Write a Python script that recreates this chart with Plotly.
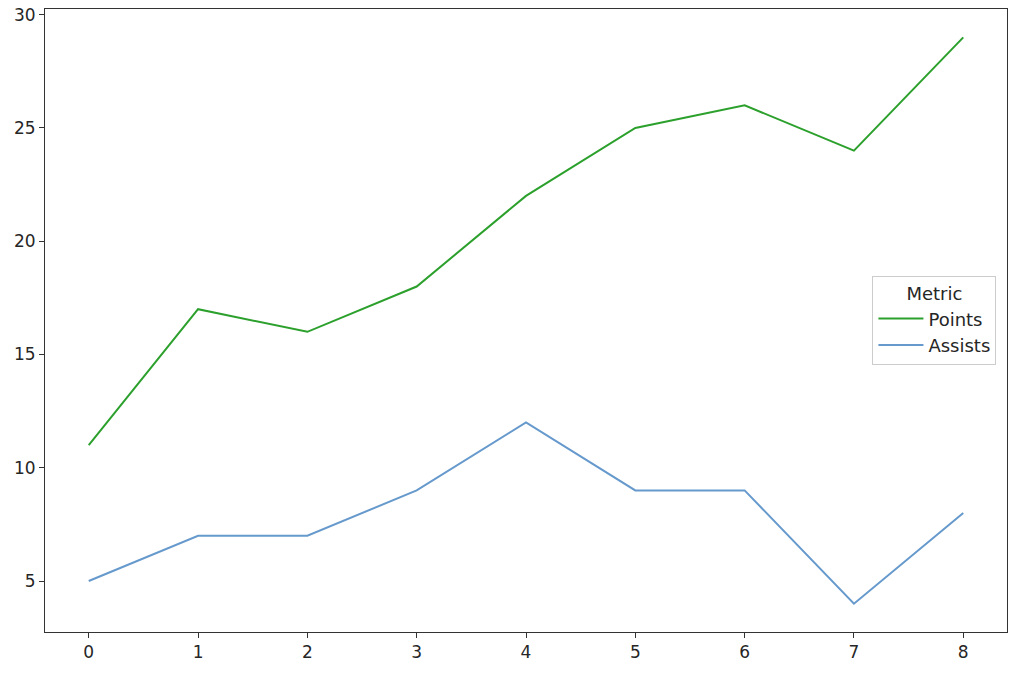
import plotly.graph_objects as go

x_vals = [0, 1, 2, 3, 4, 5, 6, 7, 8]
points = [11, 17, 16, 18, 22, 25, 26, 24, 29]
assists = [5, 7, 7, 9, 12, 9, 9, 4, 8]
y_ticks = [5, 10, 15, 20, 25, 30]

fig = go.Figure()
fig.add_trace(go.Scatter(x=x_vals, y=points, mode="lines", name="Points",
                         line=dict(color="#2ca02c", width=2)))
fig.add_trace(go.Scatter(x=x_vals, y=assists, mode="lines", name="Assists",
                         line=dict(color="#6699cc", width=2)))

axis_common = dict(showgrid=False, zeroline=False, showline=True, linecolor="#333333",
                   linewidth=1, mirror=True, ticks="outside", ticklen=5, tickwidth=1,
                   tickcolor="#333333", tickfont=dict(size=17, color="#262626"),
                   ticklabeloverflow="allow", automargin=False)
fig.update_xaxes(range=[-0.4, 8.4], tickvals=x_vals, **axis_common)
fig.update_yaxes(range=[2.75, 30.25], tickvals=y_ticks, **axis_common)

fig.update_layout(
    width=1024, height=673,
    margin=dict(l=45, r=17, t=9, b=41),
    paper_bgcolor="white", plot_bgcolor="white",
    font=dict(family="DejaVu Sans", size=17, color="#262626"),
    legend=dict(title=dict(text="Metric", side="top center", font=dict(size=18)),
                x=0.989, xanchor="right", y=0.5, yanchor="middle",
                bgcolor="rgba(255,255,255,0.8)", bordercolor="#cccccc", borderwidth=1,
                itemwidth=45, font=dict(size=18)),
)
fig.write_html("out.html", config={"displayModeBar": False},
               post_script="document.body.style.margin='0';document.body.style.overflow='hidden';")
